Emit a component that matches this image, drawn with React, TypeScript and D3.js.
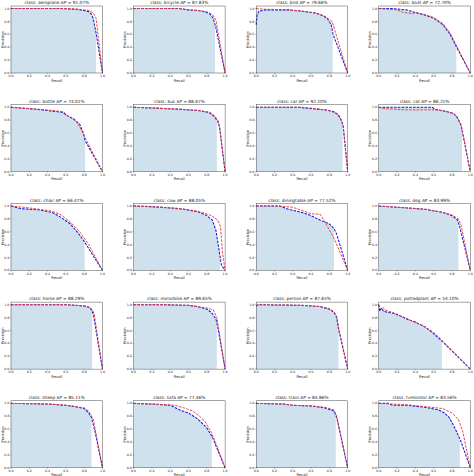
import React from "react";
import * as d3 from "d3";

const classNames = [
  "aeroplane", "bicycle", "bird", "boat",
  "bottle", "bus", "car", "cat",
  "chair", "cow", "diningtable", "dog",
  "horse", "motorbike", "person", "pottedplant",
  "sheep", "sofa", "train", "tvmonitor",
];
const apValues = [
  91.07, 87.83, 79.66, 72.7,
  74.01, 88.67, 92.2, 86.21,
  66.47, 88.05, 77.52, 83.99,
  88.29, 89.65, 87.65, 54.1,
  85.11, 77.46, 84.86, 83.56,
];
const fillEnds = [
  0.93, 0.89, 0.837, 0.847,
  0.81, 0.91, 0.945, 0.91,
  0.805, 0.945, 0.85, 0.87,
  0.887, 0.91, 0.9, 0.69,
  0.88, 0.855, 0.87, 0.885,
];
type Pt = [number, number];
const blueCurves: Pt[][] = [
  [[0,1],[0.55,1],[0.7,0.99],[0.8,0.97],[0.85,0.95],[0.88,0.91],[0.9,0.84],[0.93,0.62],[1,0]],
  [[0,1],[0.5,1],[0.6,0.98],[0.7,0.97],[0.78,0.95],[0.83,0.92],[0.87,0.85],[0.9,0.7],[1,0]],
  [[0,0.75],[0.01,0.9],[0.03,0.96],[0.1,0.98],[0.35,0.98],[0.5,0.96],[0.65,0.93],[0.73,0.89],[0.78,0.84],[0.82,0.75],[0.84,0.6],[1,0]],
  [[0,1],[0.15,1],[0.3,0.98],[0.4,0.94],[0.5,0.9],[0.6,0.85],[0.7,0.75],[0.78,0.6],[0.85,0.4],[1,0]],
  [[0,1],[0.1,0.99],[0.2,0.98],[0.4,0.95],[0.57,0.92],[0.6,0.88],[0.68,0.82],[0.75,0.74],[0.79,0.6],[0.81,0.48],[1,0]],
  [[0,1],[0.2,0.99],[0.5,0.97],[0.7,0.95],[0.82,0.92],[0.88,0.86],[0.92,0.78],[0.94,0.68],[1,0]],
  [[0,1],[0.45,1],[0.6,0.98],[0.75,0.96],[0.85,0.93],[0.9,0.88],[0.93,0.8],[0.95,0.72],[1,0]],
  [[0,1],[0.2,1],[0.58,1],[0.62,0.97],[0.75,0.93],[0.82,0.9],[0.86,0.84],[0.9,0.72],[1,0]],
  [[0,1],[0.1,0.96],[0.3,0.94],[0.45,0.9],[0.55,0.82],[0.65,0.72],[0.75,0.55],[0.8,0.45],[1,0]],
  [[0,1],[0.2,0.99],[0.4,0.97],[0.55,0.95],[0.7,0.91],[0.8,0.85],[0.86,0.78],[0.9,0.62],[0.93,0.35],[0.96,0.08],[1,0]],
  [[0,1],[0.25,1],[0.35,0.95],[0.5,0.9],[0.6,0.85],[0.7,0.78],[0.8,0.72],[0.85,0.65],[0.88,0.56],[1,0]],
  [[0,1],[0.2,0.98],[0.5,0.95],[0.7,0.9],[0.8,0.85],[0.86,0.78],[0.88,0.7],[1,0]],
  [[0,1],[0.6,1],[0.8,0.98],[0.85,0.96],[0.88,0.92],[0.9,0.85],[1,0]],
  [[0,1],[0.3,1],[0.6,0.99],[0.7,0.97],[0.8,0.93],[0.85,0.88],[0.9,0.78],[0.92,0.65],[1,0]],
  [[0,0.98],[0.02,1],[0.5,0.99],[0.7,0.97],[0.8,0.93],[0.85,0.88],[0.88,0.8],[0.9,0.62],[1,0]],
  [[0,1],[0.01,0.9],[0.03,0.95],[0.05,0.9],[0.1,0.88],[0.15,0.87],[0.2,0.85],[0.3,0.78],[0.4,0.73],[0.5,0.66],[0.6,0.55],[0.68,0.45],[1,0]],
  [[0,1],[0.4,0.99],[0.6,0.97],[0.7,0.95],[0.8,0.92],[0.85,0.85],[0.88,0.78],[0.92,0.55],[1,0]],
  [[0,1],[0.2,0.99],[0.4,0.97],[0.5,0.9],[0.6,0.85],[0.7,0.76],[0.8,0.62],[0.86,0.48],[1,0]],
  [[0,1],[0.3,0.99],[0.4,0.97],[0.6,0.96],[0.75,0.93],[0.85,0.88],[0.88,0.78],[1,0]],
  [[0,1],[0.1,1],[0.15,0.97],[0.3,0.97],[0.5,0.94],[0.65,0.9],[0.72,0.85],[0.77,0.78],[0.82,0.65],[0.87,0.5],[0.9,0.4],[1,0]],
];
const redCurves: Pt[][] = [
  [[0,1],[0.6,1],[0.75,0.99],[0.85,0.97],[0.9,0.93],[0.93,0.85],[1,0]],
  [[0,1],[0.5,1],[0.6,0.98],[0.72,0.97],[0.8,0.95],[0.86,0.91],[0.9,0.82],[1,0]],
  [[0,1],[0.1,0.99],[0.35,0.98],[0.5,0.96],[0.65,0.93],[0.75,0.88],[0.83,0.8],[1,0]],
  [[0,1],[0.2,0.98],[0.27,0.94],[0.37,0.92],[0.4,0.94],[0.5,0.91],[0.6,0.86],[0.7,0.77],[0.78,0.62],[0.84,0.45],[1,0]],
  [[0,1],[0.15,0.98],[0.3,0.97],[0.45,0.95],[0.57,0.93],[0.62,0.87],[0.7,0.81],[0.74,0.72],[0.78,0.62],[0.82,0.5],[1,0]],
  [[0,1],[0.2,0.99],[0.5,0.97],[0.72,0.95],[0.84,0.92],[0.89,0.86],[0.92,0.8],[0.94,0.7],[1,0]],
  [[0,1],[0.5,1],[0.65,0.98],[0.8,0.95],[0.88,0.9],[0.92,0.82],[0.95,0.72],[1,0]],
  [[0,1],[0.05,0.98],[0.3,0.96],[0.58,0.96],[0.62,0.96],[0.75,0.93],[0.82,0.9],[0.86,0.83],[0.9,0.72],[1,0]],
  [[0,1],[0.2,0.97],[0.45,0.92],[0.55,0.86],[0.65,0.75],[0.75,0.6],[0.85,0.4],[1,0]],
  [[0,1],[0.3,0.98],[0.5,0.96],[0.65,0.93],[0.75,0.9],[0.85,0.85],[0.92,0.78],[0.95,0.68],[0.97,0.3],[1,0]],
  [[0,1],[0.25,1],[0.4,0.98],[0.5,0.93],[0.6,0.88],[0.7,0.87],[0.75,0.75],[0.85,0.5],[1,0]],
  [[0,1],[0.2,0.98],[0.5,0.95],[0.7,0.9],[0.8,0.86],[0.87,0.8],[0.9,0.7],[1,0]],
  [[0,1],[0.6,1],[0.8,0.98],[0.86,0.96],[0.89,0.92],[0.91,0.85],[1,0]],
  [[0,1],[0.3,1],[0.6,0.99],[0.7,0.97],[0.8,0.95],[0.87,0.92],[0.91,0.8],[1,0]],
  [[0,0.98],[0.02,1],[0.5,0.99],[0.7,0.97],[0.8,0.94],[0.85,0.89],[0.88,0.82],[0.9,0.65],[1,0]],
  [[0,1],[0.02,0.93],[0.04,0.96],[0.07,0.92],[0.1,0.9],[0.15,0.88],[0.2,0.84],[0.3,0.79],[0.4,0.72],[0.5,0.66],[0.6,0.57],[0.68,0.46],[1,0]],
  [[0,1],[0.4,0.99],[0.6,0.97],[0.7,0.95],[0.8,0.93],[0.85,0.88],[0.9,0.75],[0.92,0.6],[1,0]],
  [[0,1],[0.2,0.99],[0.45,0.97],[0.55,0.93],[0.65,0.88],[0.72,0.8],[0.78,0.72],[0.85,0.55],[0.92,0.3],[1,0]],
  [[0,1],[0.3,0.99],[0.4,0.97],[0.6,0.96],[0.75,0.94],[0.85,0.9],[0.88,0.8],[1,0]],
  [[0,1],[0.3,0.98],[0.5,0.95],[0.7,0.92],[0.8,0.85],[0.87,0.75],[0.92,0.55],[1,0]],
];
const tickValues = [0, 0.2, 0.4, 0.6, 0.8, 1.0];

const W = 474;
const H = 476;
const colLeft = 11;
const colStep = 122.6;
const rowTop = 6;
const rowStep = 98.7;
const pw = 91.5;
const ph = 67;

function Panel({ i }: { i: number }) {
  const col = i % 4;
  const row = Math.floor(i / 4);
  const x0 = colLeft + col * colStep;
  const y0 = rowTop + row * rowStep;
  const x = d3.scaleLinear().domain([0, 1]).range([0, pw]);
  const y = d3.scaleLinear().domain([0, 1.04]).range([ph, 0]);
  const line = d3.line<Pt>().x((d) => x(d[0])).y((d) => y(d[1]));
  const area = d3
    .area<Pt>()
    .x((d) => x(d[0]))
    .y0(y(0))
    .y1((d) => y(d[1]));
  const clipId = `clip-${i}`;
  const font = "DejaVu Sans, sans-serif";
  return (
    <g transform={`translate(${x0},${y0})`}>
      <defs>
        <clipPath id={clipId}>
          <rect x={0} y={0} width={x(fillEnds[i])} height={ph} />
        </clipPath>
      </defs>
      <rect x={0} y={0} width={pw} height={ph} fill="#fff" />
      <path d={area(blueCurves[i]) || ""} fill="#d0e1ee" clipPath={`url(#${clipId})`} />
      <path d={line(blueCurves[i]) || ""} fill="none" stroke="#1a1ad6" strokeWidth={1.05} strokeDasharray="2.6,1.2" />
      <path d={line(redCurves[i]) || ""} fill="none" stroke="#e8333a" strokeWidth={0.9} strokeDasharray="2.6,1.2" />
      <rect x={0} y={0} width={pw} height={ph} fill="none" stroke="#222" strokeWidth={0.4} />
      {tickValues.map((t) => (
        <g key={"x" + t}>
          <line x1={x(t)} x2={x(t)} y1={ph} y2={ph + 1.2} stroke="#222" strokeWidth={0.3} />
          <text x={x(t)} y={ph + 4.4} fontSize={3.2} textAnchor="middle" fontFamily={font} fill="#222">
            {t.toFixed(1)}
          </text>
        </g>
      ))}
      {tickValues.map((t) => (
        <g key={"y" + t}>
          <line x1={-1.2} x2={0} y1={y(t)} y2={y(t)} stroke="#222" strokeWidth={0.3} />
          <text x={-1.8} y={y(t) + 1.1} fontSize={3.2} textAnchor="end" fontFamily={font} fill="#222">
            {t.toFixed(1)}
          </text>
        </g>
      ))}
      <text x={pw / 2} y={ph + 8.7} fontSize={3.7} textAnchor="middle" fontFamily={font} fill="#222">
        Recall
      </text>
      <text
        transform={`translate(${-7.4},${ph / 2}) rotate(-90)`}
        fontSize={3.7}
        textAnchor="middle"
        fontFamily={font}
        fill="#222"
      >
        Precision
      </text>
      <text x={pw / 2} y={-1.8} fontSize={4.3} textAnchor="middle" fontFamily={font} fill="#222">
        {`class: ${classNames[i]} AP = ${apValues[i].toFixed(2)}%`}
      </text>
    </g>
  );
}

export default function App() {
  return (
    <svg
      width={W}
      height={H}
      viewBox={`0 0 ${W} ${H}`}
      style={{ position: "absolute", left: 0, top: 0, background: "#fff" }}
    >
      <rect width={W} height={H} fill="#fff" />
      {classNames.map((_, i) => (
        <Panel key={i} i={i} />
      ))}
    </svg>
  );
}
